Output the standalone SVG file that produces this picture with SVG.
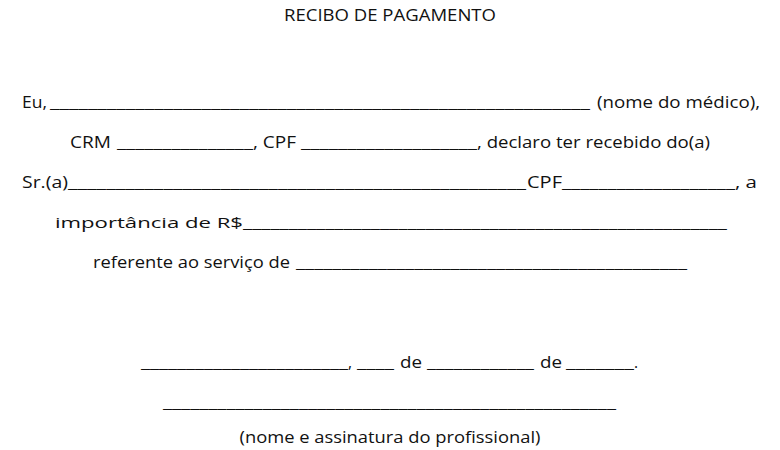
<svg xmlns="http://www.w3.org/2000/svg" width="780" height="450" viewBox="0 0 780 450">
<style>
text{font-family:"Open Sans","Liberation Sans",sans-serif;font-size:15.5px;fill:#111}
</style>
<rect width="780" height="450" fill="#fff"/>
<text x="390" y="21" text-anchor="middle" textLength="212" lengthAdjust="spacingAndGlyphs">RECIBO DE PAGAMENTO</text>
<g id="linha1">
<text x="22" y="108" textLength="25" lengthAdjust="spacingAndGlyphs">Eu,</text>
<text x="50" y="108" textLength="540" lengthAdjust="spacingAndGlyphs">_________________________________________________________</text>
<text x="597" y="108" textLength="163" lengthAdjust="spacingAndGlyphs">(nome do médico),</text>
</g>
<g id="linha2">
<text x="70" y="148" textLength="41" lengthAdjust="spacingAndGlyphs">CRM</text>
<text x="117" y="148" textLength="136" lengthAdjust="spacingAndGlyphs">_______________</text>
<text x="253" y="148" textLength="43" lengthAdjust="spacingAndGlyphs">, CPF</text>
<text x="301" y="148" textLength="176" lengthAdjust="spacingAndGlyphs">___________________</text>
<text x="477" y="148" textLength="233" lengthAdjust="spacingAndGlyphs">, declaro ter recebido do(a)</text>
</g>
<g id="linha3">
<text x="22" y="188" textLength="46" lengthAdjust="spacingAndGlyphs">Sr.(a)</text>
<text x="68" y="188" textLength="458" lengthAdjust="spacingAndGlyphs">________________________________________________</text>
<text x="527" y="188" textLength="35" lengthAdjust="spacingAndGlyphs">CPF</text>
<text x="562" y="188" textLength="173" lengthAdjust="spacingAndGlyphs">___________________</text>
<text x="735" y="188" textLength="22" lengthAdjust="spacingAndGlyphs">, a</text>
</g>
<g id="linha4">
<text x="55" y="228" textLength="188" lengthAdjust="spacingAndGlyphs" style="font-size:14.5px">importância de R$</text>
<text x="243" y="228" textLength="484" lengthAdjust="spacingAndGlyphs">_____________________________________________________</text>
</g>
<g id="linha5">
<text x="93" y="268" textLength="197" lengthAdjust="spacingAndGlyphs">referente ao serviço de</text>
<text x="296" y="268" textLength="391" lengthAdjust="spacingAndGlyphs">___________________________________________</text>
</g>
<g id="linha6">
<text x="141" y="368" textLength="207" lengthAdjust="spacingAndGlyphs">_______________________</text>
<text x="348" y="368">,</text>
<text x="357" y="368" textLength="37" lengthAdjust="spacingAndGlyphs">____</text>
<text x="400" y="368" textLength="22" lengthAdjust="spacingAndGlyphs">de</text>
<text x="427" y="368" textLength="107" lengthAdjust="spacingAndGlyphs">____________</text>
<text x="540" y="368" textLength="22" lengthAdjust="spacingAndGlyphs">de</text>
<text x="566" y="368" textLength="68" lengthAdjust="spacingAndGlyphs">_______</text>
<text x="634" y="368">.</text>
</g>
<g id="assinatura">
<text x="163" y="408" textLength="453" lengthAdjust="spacingAndGlyphs">__________________________________________________</text>
<text x="390" y="443" text-anchor="middle" textLength="301" lengthAdjust="spacingAndGlyphs">(nome e assinatura do profissional)</text>
</g>
</svg>
